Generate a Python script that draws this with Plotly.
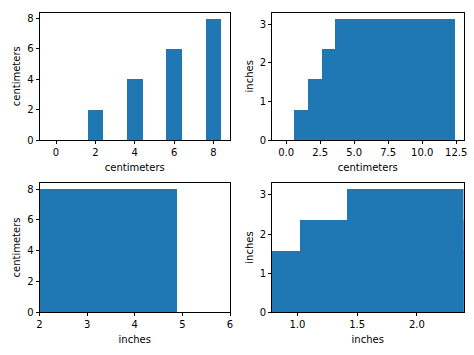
import plotly.graph_objects as go

# data: bar positions/heights
cms = [0, 2, 4, 6, 8]                       # centimeters
inches = [0.0, 0.787, 1.575, 2.362, 3.150]  # same values in inches

w_p1 = [0.8, 0.8, 0.8, 0.8, 0.8]            # cm
w_p2 = [0.8, 2.8, 4.8, 6.8, 8.8]            # cm
w_p34 = [0.315, 1.102, 1.890, 2.677, 3.465] # inches

BLUE = "#1f77b4"
FONT = dict(family="DejaVu Sans", size=10, color="black")

fig = go.Figure()
fig.add_trace(go.Bar(x=cms, y=cms, width=w_p1, xaxis="x", yaxis="y"))
fig.add_trace(go.Bar(x=cms, y=inches, width=w_p2, xaxis="x2", yaxis="y2"))
fig.add_trace(go.Bar(x=inches, y=cms, width=w_p34, xaxis="x3", yaxis="y3"))
fig.add_trace(go.Bar(x=inches, y=inches, width=w_p34, xaxis="x4", yaxis="y4"))
fig.update_traces(marker_color=BLUE, marker_line_width=0, showlegend=False, hoverinfo="skip")

W, H = 474, 355
def dx(a, b):
    return [a / W, b / W]
def dy(top, bot):
    return [(H - bot) / H, (H - top) / H]

ax = dict(showline=True, mirror=True, linecolor="black", linewidth=1, ticks="outside",
          ticklen=3, tickwidth=1, tickcolor="black", showgrid=False, zeroline=False,
          tickfont=FONT, title_font=FONT, automargin=False)
xax = dict(ax, title_standoff=6)
yax = dict(ax, title_standoff=4)

fig.update_layout(
    width=W, height=H, margin=dict(l=0, r=0, t=0, b=0, autoexpand=False),
    plot_bgcolor="white", paper_bgcolor="white", font=FONT, bargap=0,
    xaxis=dict(xax, domain=dx(39.5, 230), anchor="y", range=[-0.84, 8.84],
               tickvals=[0, 2, 4, 6, 8], title_text="centimeters"),
    yaxis=dict(yax, domain=dy(12.5, 140), anchor="x", range=[0, 8.4],
               tickvals=[0, 2, 4, 6, 8], title_text="centimeters"),
    xaxis2=dict(xax, domain=dx(272, 463.5), anchor="y2", range=[-1.04, 13.04],
                tickvals=[0, 2.5, 5, 7.5, 10, 12.5], tickformat=".1f", title_text="centimeters"),
    yaxis2=dict(yax, domain=dy(12.5, 140), anchor="x2", range=[0, 3.3075],
                tickvals=[0, 1, 2, 3], title_text="inches"),
    xaxis3=dict(xax, domain=dx(39.5, 230), anchor="y3", range=[2, 6],
                tickvals=[2, 3, 4, 5, 6], title_text="inches"),
    yaxis3=dict(yax, domain=dy(183, 312), anchor="x3", range=[0, 8.4],
                tickvals=[0, 2, 4, 6, 8], title_text="centimeters"),
    xaxis4=dict(xax, domain=dx(272, 463.5), anchor="y4", range=[0.787, 2.39],
                tickvals=[1.0, 1.5, 2.0], tickformat=".1f", title_text="inches"),
    yaxis4=dict(yax, domain=dy(183, 312), anchor="x4", range=[0, 3.3075],
                tickvals=[0, 1, 2, 3], title_text="inches"),
)

fig.write_html("out.html", config={"displayModeBar": False, "staticPlot": True},
               post_script="document.body.style.margin='0';document.body.style.overflow='hidden';")
